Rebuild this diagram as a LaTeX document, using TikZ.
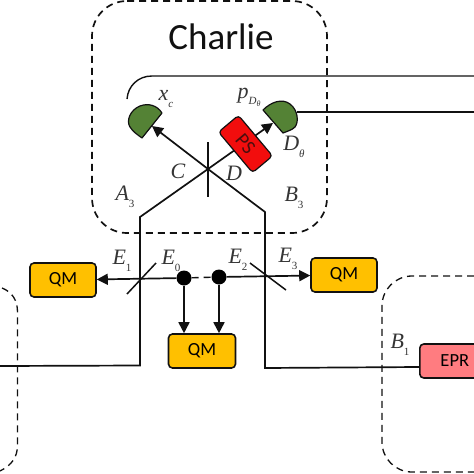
\documentclass[tikz,border=0pt]{standalone}
\usepackage{fontspec}
\setmainfont{Liberation Serif}
\newfontfamily\calfam{Carlito}
\usetikzlibrary{arrows.meta,calc}
\definecolor{qmc}{HTML}{FFC000}
\definecolor{eprc}{HTML}{FF7C80}
\definecolor{psc}{HTML}{F20D0D}
\definecolor{detc}{HTML}{548235}
\definecolor{ink}{HTML}{111111}
\newcommand{\sym}[2]{{\itshape #1}\raisebox{-0.3em}{\fontsize{11}{11}\selectfont #2}}
\tikzset{
  x=1pt,y=-1pt,
  wire/.style={draw=ink,line width=1.7pt,line join=miter},
  tip/.style={wire,-{Triangle[length=11pt,width=11pt]}},
  bs/.style={draw=ink,line width=1.5pt},
  dbox/.style={draw=ink,line width=1.3pt,dash pattern=on 7pt off 5pt},
  qm/.style={draw=ink,line width=1.6pt,fill=qmc,rounded corners=4pt,minimum width=66pt,minimum height=34pt,inner sep=0pt,font=\calfam\fontsize{18.5}{18.5}\selectfont},
  epr/.style={qm,fill=eprc},
  dot/.style={circle,fill=black,inner sep=0pt,minimum size=15pt},
  lab/.style={inner sep=0pt,font=\fontsize{22}{22}\selectfont,text=ink!85},
  det/.style={draw=ink,line width=1.2pt,fill=detc,line join=round},
}
\begin{document}
\begin{tikzpicture}
\useasboundingbox (0,0) rectangle (474,474);
\fill[white] (0,0) rectangle (474,474);
% dashed regions
\draw[dbox,line width=1.7pt] (127,1) -- (292,1) arc[start angle=90,end angle=0,radius=35pt] -- (327,198) arc[start angle=0,end angle=-90,radius=35pt] -- (127,233) arc[start angle=-90,end angle=-180,radius=35pt] -- (92,36) arc[start angle=180,end angle=90,radius=35pt];
\draw[dbox] (2,288) .. controls (12,292) and (17.5,300) .. (17.5,312) -- (17.5,445) .. controls (17.5,457) and (12,465) .. (0,471);
\draw[dbox] (474,276) -- (412,276) arc[start angle=90,end angle=180,radius=30pt] -- (382,442) arc[start angle=180,end angle=270,radius=30pt] -- (474,472);
% named points
\coordinate (cross) at (208,169);
\coordinate (la) at (140,217);
\coordinate (lb) at (140,365.5);
\coordinate (lc) at (0,366);
\coordinate (ra) at (265,212);
\coordinate (rb) at (265,368);
\coordinate (xtip) at (152,126);
\coordinate (dtip) at (273,123);
\coordinate (bsat) at (208,142);
\coordinate (bsbt) at (208,197);
\coordinate (e1a) at (127,294);
\coordinate (e1b) at (156,263);
\coordinate (e2a) at (250,263);
\coordinate (e2b) at (286,290);
\coordinate (fbt) at (127,99);
\coordinate (fbta) at (474,76);
\coordinate (fbr) at (297,112);
\coordinate (fbrb) at (474,112);
% nodes
\node[qm] (qmL) at (63,280) {QM};
\node[qm] (qmR) at (344,275) {QM};
\node[qm,minimum width=67pt] (qmB) at (202,351) {QM};
\node[epr,anchor=west,minimum width=70pt] (epr) at (419,361) {EPR};
\coordinate (eprin) at ($(epr.west)+(0,6)$);
\node[dot] (d0) at (184,278) {};
\node[dot] (d1) at (219,277) {};
% detectors
\draw[det] (162,113) .. controls (157,105) and (148,103) .. (140,106) .. controls (130,110) and (126,121) .. (130,127) .. controls (133,132) and (138,135) .. (142,138) -- cycle;
\draw[det] (263,110) .. controls (271,102) and (282,98) .. (290,104) .. controls (298,110) and (299,122) .. (295,127) .. controls (292,130) and (288,131) .. (283,133) -- cycle;
% wires
\draw[wire] (lc) -- (lb) -- (la) -- (cross);
\draw[wire] (eprin) -- (rb) -- (ra) -- (cross);
\draw[tip] (cross) -- (xtip);
\draw[tip] (cross) -- (dtip);
\draw[bs] (bsat) -- (bsbt);
\draw[bs] (e1a) -- (e1b);
\draw[bs] (e2a) -- (e2b);
\draw[tip] (d0) -- (qmL);
\draw[tip] (d1) -- (qmR);
\draw[dbox,line width=1.4pt] (d0) -- (d1);
\draw[tip] (d0) -- (d0 |- qmB.north);
\draw[tip] (d1) -- (d1 |- qmB.north);
\draw[wire,line width=1.4pt] (fbt) .. controls (128,86) and (138,76) .. (152,76) -- (fbta);
\draw[wire,line width=1.4pt] (fbr) -- (fbrb);
% phase shifter (over the wire)
\node[draw=ink,line width=1.2pt,fill=psc,rounded corners=3.5pt,minimum width=53pt,minimum height=26pt,inner sep=0pt,rotate=-50,font=\calfam\fontsize{20}{20}\selectfont,text=ink!75!red] (ps) at (245.5,144) {PS};
% labels
\node[inner sep=0pt,font=\calfam\fontsize{37}{37}\selectfont,text=ink] (charlie) at (221,37) {Charlie};
\node[lab] (lxc) at (166,99) {\sym{x}{\itshape c}};
\node[lab] (lpd) at (249,97) {{\itshape p}\raisebox{-0.3em}{\fontsize{11}{11}\selectfont\itshape D\raisebox{-0.15em}{\fontsize{8}{8}\selectfont θ}}};
\node[lab] (ldt) at (294,147) {\sym{D}{\itshape θ}};
\node[lab] (lc2) at (178,171) {\itshape C};
\node[lab] (ld) at (234,173) {\itshape D};
\node[lab] (la3) at (125,197) {\sym{A}{3}};
\node[lab] (lb3) at (294,198) {\sym{B}{3}};
\node[lab] (le1) at (122,261) {\sym{E}{1}};
\node[lab] (le0) at (171,261) {\sym{E}{0}};
\node[lab] (le2) at (238,260) {\sym{E}{2}};
\node[lab] (le3) at (288,259) {\sym{E}{3}};
\node[lab] (lb1) at (400,345) {\sym{B}{1}};
\end{tikzpicture}
\end{document}
